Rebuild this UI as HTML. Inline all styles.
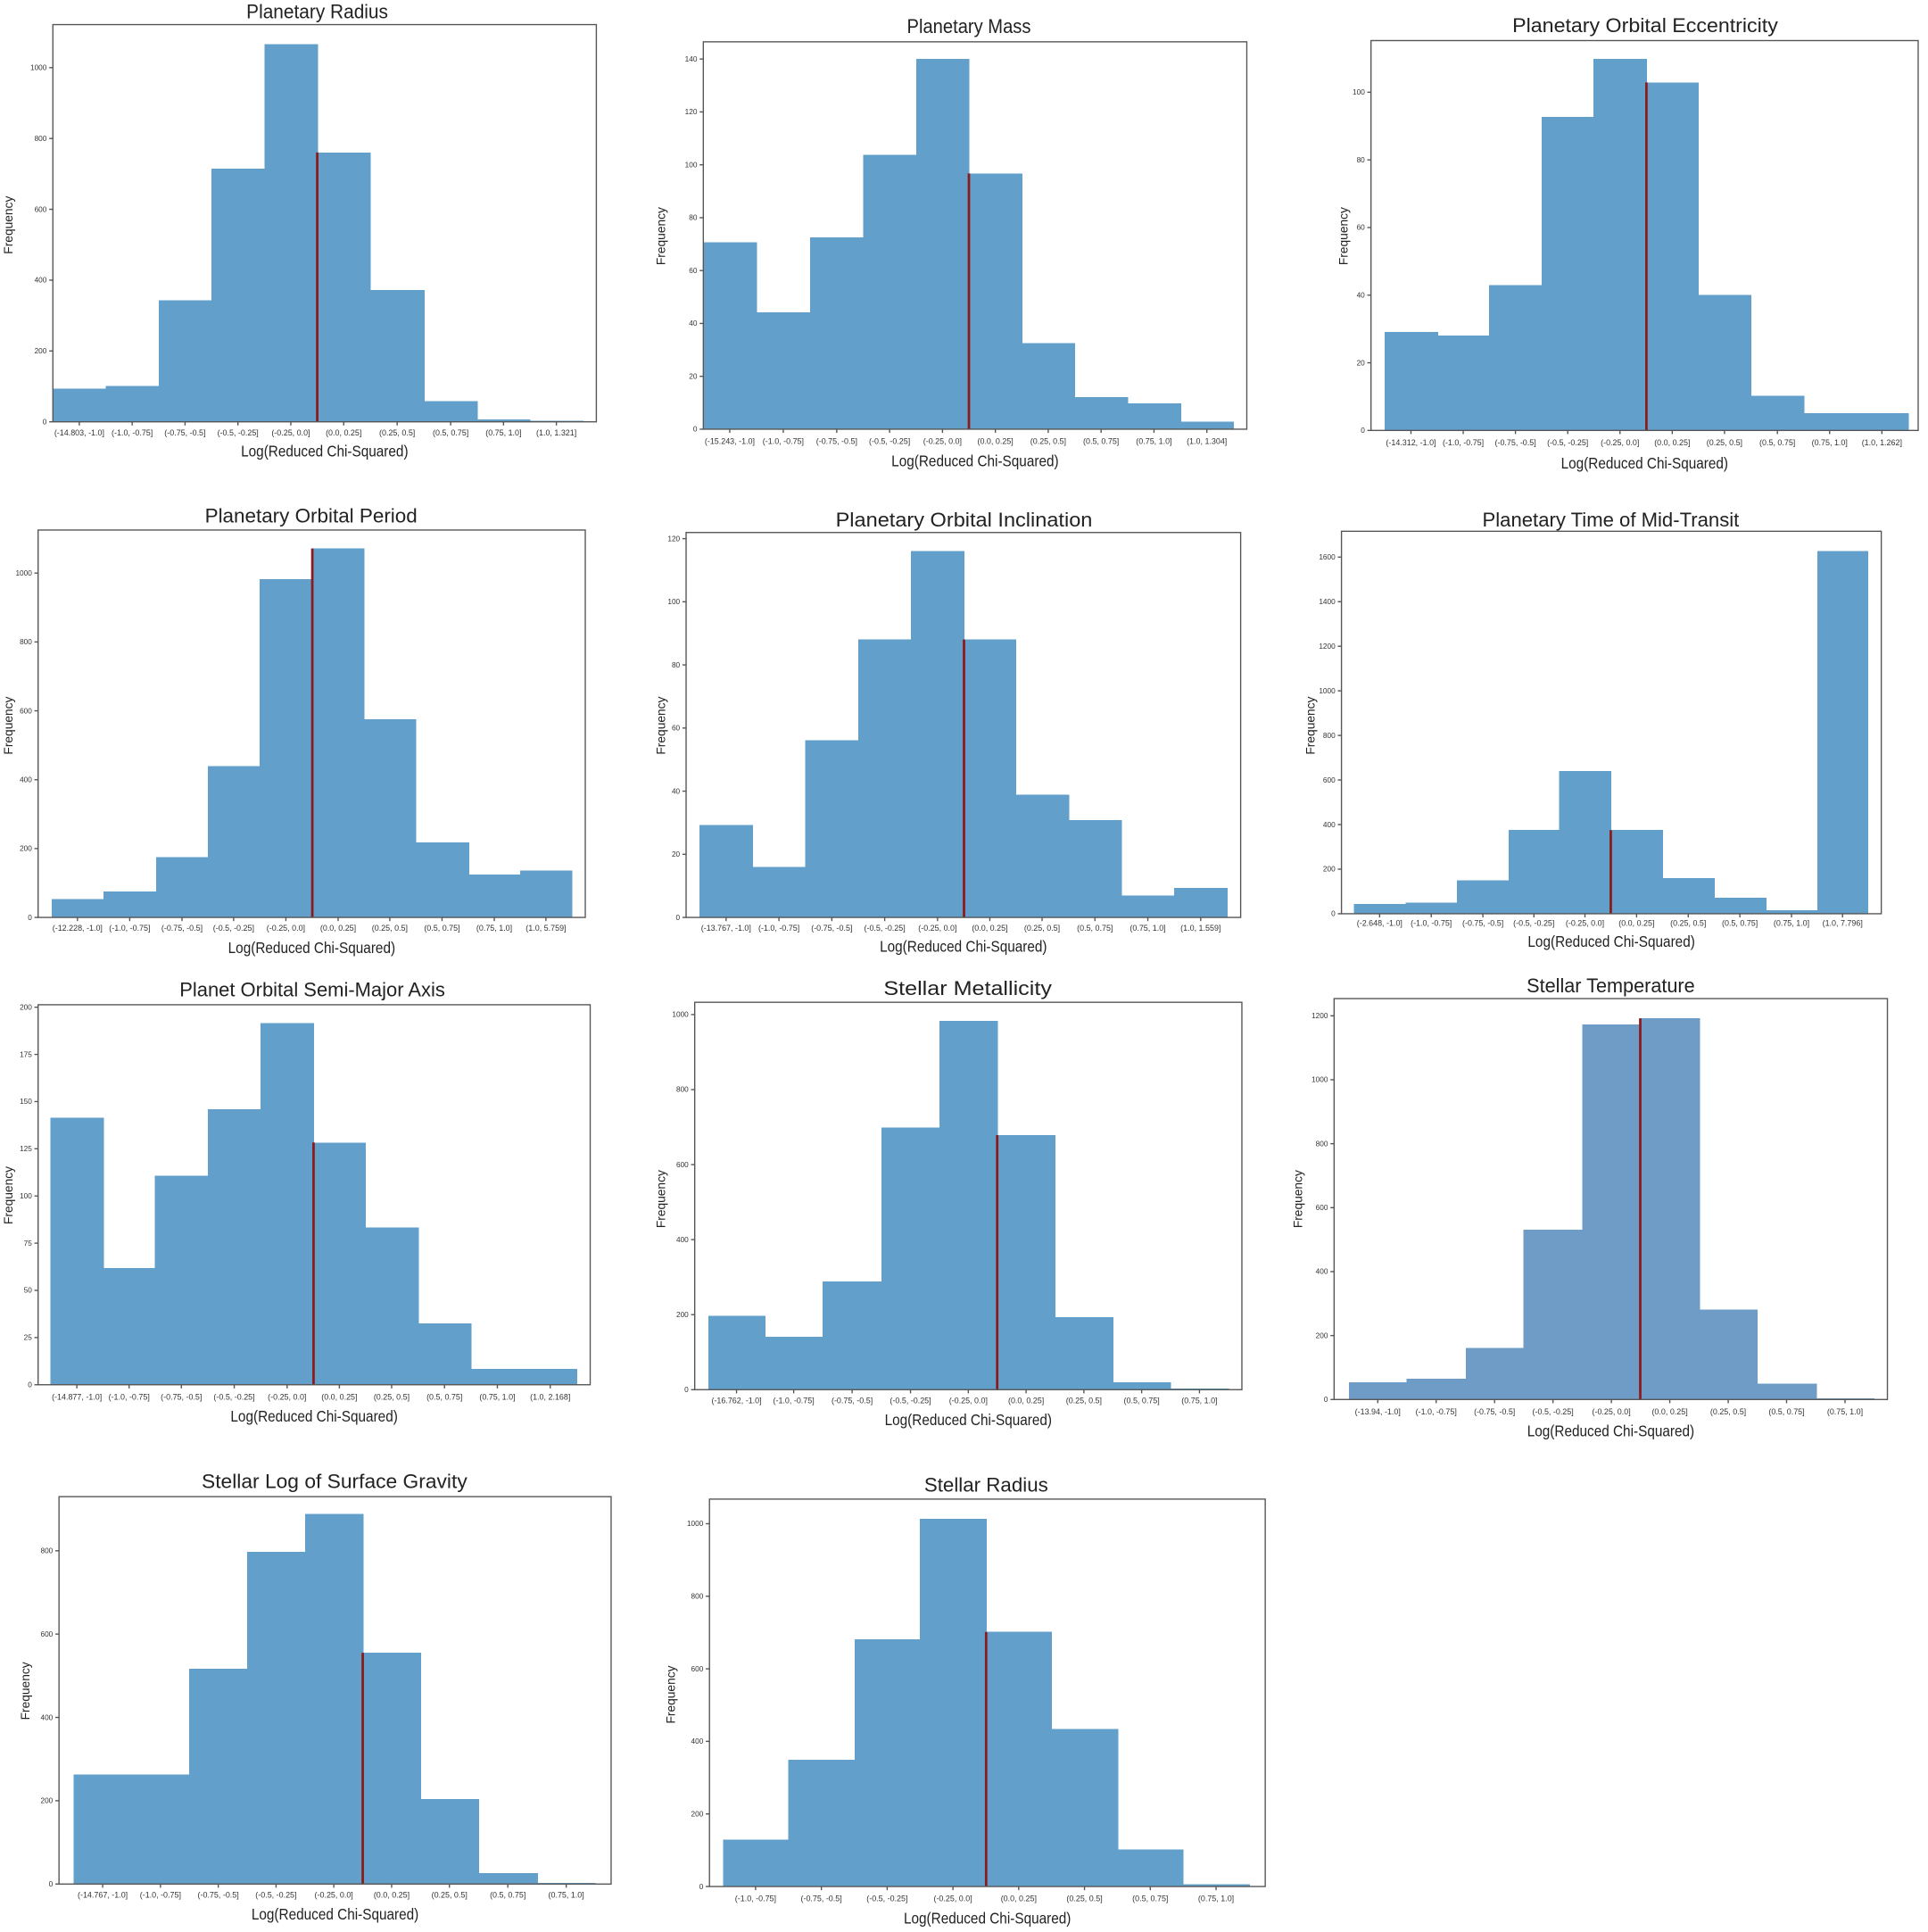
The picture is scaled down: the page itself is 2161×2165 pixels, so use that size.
<!DOCTYPE html>
<html><head><meta charset="utf-8"><style>html,body{margin:0;padding:0;background:#fff}svg{display:block}</style></head>
<body>
<svg id="s" width="2161" height="2165" viewBox="0 0 1568 1571" preserveAspectRatio="none" xmlns="http://www.w3.org/2000/svg" font-family="Liberation Sans, sans-serif"></svg>
<script>
const P=[
{t:"Planetary Radius",ax:[43,485,20,343],tx:258,ty:9,e:[43,86,129,172,215,258,301,345,388,431,474],h:[316,314,244,137,36,124,236,326,341,342],r:5,yt:[0,200,400,600,800,1000],y0:343,y1:55,ym:1000,ly:352,al:366,fx:6,fy:183,
xl:["(-14.803, -1.0]","(-1.0, -0.75]","(-0.75, -0.5]","(-0.5, -0.25]","(-0.25, 0.0]","(0.0, 0.25]","(0.25, 0.5]","(0.5, 0.75]","(0.75, 1.0]","(1.0, 1.321]"]},
{t:"Planetary Mass",ax:[572,1014,34,349],tx:788,ty:21,e:[572,615,659,702,745,788,831,874,917,960,1003],h:[197,254,193,126,48,141,279,323,328,343],r:5,yt:[0,20,40,60,80,100,120,140],y0:349,y1:48,ym:140,ly:359,al:374,fx:537,fy:192,
xl:["(-15.243, -1.0]","(-1.0, -0.75]","(-0.75, -0.5]","(-0.5, -0.25]","(-0.25, 0.0]","(0.0, 0.25]","(0.25, 0.5]","(0.5, 0.75]","(0.75, 1.0]","(1.0, 1.304]"]},
{t:"Planetary Orbital Eccentricity",ax:[1115,1560,33,350],tx:1338,ty:20,e:[1126,1169,1211,1254,1296,1339,1381,1424,1467,1509,1552],h:[270,273,232,95,48,67,240,322,336,336],r:5,yt:[0,20,40,60,80,100],y0:350,y1:75,ym:100,ly:360,al:376,fx:1092,fy:192,
xl:["(-14.312, -1.0]","(-1.0, -0.75]","(-0.75, -0.5]","(-0.5, -0.25]","(-0.25, 0.0]","(0.0, 0.25]","(0.25, 0.5]","(0.5, 0.75]","(0.75, 1.0]","(1.0, 1.262]"]},
{t:"Planetary Orbital Period",ax:[31,476,431,746],tx:253,ty:419,e:[42,84,127,169,211,254,296,338,381,423,465],h:[731,725,697,623,471,446,585,685,711,708],r:5,yt:[0,200,400,600,800,1000],y0:746,y1:466,ym:1000,ly:755,al:770,fx:6,fy:590,
xl:["(-12.228, -1.0]","(-1.0, -0.75]","(-0.75, -0.5]","(-0.5, -0.25]","(-0.25, 0.0]","(0.0, 0.25]","(0.25, 0.5]","(0.5, 0.75]","(0.75, 1.0]","(1.0, 5.759]"]},
{t:"Planetary Orbital Inclination",ax:[558,1009,433,746],tx:784,ty:422,e:[569,612,655,698,741,784,826,869,912,955,998],h:[671,705,602,520,448,520,646,667,728,722],r:5,yt:[0,20,40,60,80,100,120],y0:746,y1:438,ym:120,ly:755,al:769,fx:537,fy:590,
xl:["(-13.767, -1.0]","(-1.0, -0.75]","(-0.75, -0.5]","(-0.5, -0.25]","(-0.25, 0.0]","(0.0, 0.25]","(0.25, 0.5]","(0.5, 0.75]","(0.75, 1.0]","(1.0, 1.559]"]},
{t:"Planetary Time of Mid-Transit",ax:[1091,1530,432,743],tx:1310,ty:422,e:[1101,1143,1185,1227,1268,1310,1352,1394,1436,1478,1519],h:[735,734,716,675,627,675,714,730,740,448],r:5,yt:[0,200,400,600,800,1000,1200,1400,1600],y0:743,y1:453,ym:1600,ly:751,al:765,fx:1065,fy:590,
xl:["(-2.648, -1.0]","(-1.0, -0.75]","(-0.75, -0.5]","(-0.5, -0.25]","(-0.25, 0.0]","(0.0, 0.25]","(0.25, 0.5]","(0.5, 0.75]","(0.75, 1.0]","(1.0, 7.796]"]},
{t:"Planet Orbital Semi-Major Axis",ax:[31,480,817,1126],tx:254,ty:804,e:[41,84,126,169,212,255,297,340,383,426,469],h:[909,1031,956,902,832,929,998,1076,1113,1113],r:5,yt:[0,25,50,75,100,125,150,175,200],y0:1126,y1:819,ym:200,ly:1136,al:1151,fx:6,fy:972,
xl:["(-14.877, -1.0]","(-1.0, -0.75]","(-0.75, -0.5]","(-0.5, -0.25]","(-0.25, 0.0]","(0.0, 0.25]","(0.25, 0.5]","(0.5, 0.75]","(0.75, 1.0]","(1.0, 2.168]"]},
{t:"Stellar Metallicity",ax:[565,1010,815,1130],tx:787,ty:803,e:[576,622,669,717,764,811,858,905,952,999],h:[1070,1087,1042,917,830,923,1071,1124,1129],r:5,yt:[0,200,400,600,800,1000],y0:1130,y1:825,ym:1000,ly:1139,al:1154,fx:537,fy:975,
xl:["(-16.762, -1.0]","(-1.0, -0.75]","(-0.75, -0.5]","(-0.5, -0.25]","(-0.25, 0.0]","(0.0, 0.25]","(0.25, 0.5]","(0.5, 0.75]","(0.75, 1.0]"]},
{t:"Stellar Temperature",ax:[1085,1535,812,1138],tx:1310,ty:801,e:[1097,1144,1192,1239,1287,1334,1382,1429,1477,1524],h:[1124,1121,1096,1000,833,828,1065,1125,1137],r:5,c:"#6f9cc7",yt:[0,200,400,600,800,1000,1200],y0:1138,y1:826,ym:1200,ly:1148,al:1163,fx:1055,fy:975,
xl:["(-13.94, -1.0]","(-1.0, -0.75]","(-0.75, -0.5]","(-0.5, -0.25]","(-0.25, 0.0]","(0.0, 0.25]","(0.25, 0.5]","(0.5, 0.75]","(0.75, 1.0]"]},
{t:"Stellar Log of Surface Gravity",ax:[48,497,1217,1532],tx:272,ty:1204,e:[60,107,154,201,248,295,342,389,437,484],h:[1443,1443,1357,1262,1231,1344,1463,1523,1531],r:5,yt:[0,200,400,600,800],y0:1532,y1:1261,ym:800,ly:1541,al:1556,fx:20,fy:1375,
xl:["(-14.767, -1.0]","(-1.0, -0.75]","(-0.75, -0.5]","(-0.5, -0.25]","(-0.25, 0.0]","(0.0, 0.25]","(0.25, 0.5]","(0.5, 0.75]","(0.75, 1.0]"]},
{t:"Stellar Radius",ax:[577,1029,1219,1534],tx:802,ty:1207,e:[588,641,695,748,802,855,909,962,1016],h:[1496,1431,1333,1235,1327,1406,1504,1532],r:4,yt:[0,200,400,600,800,1000],y0:1534,y1:1239,ym:1000,ly:1544,al:1559,fx:545,fy:1378,
xl:["(-1.0, -0.75]","(-0.75, -0.5]","(-0.5, -0.25]","(-0.25, 0.0]","(0.0, 0.25]","(0.25, 0.5]","(0.5, 0.75]","(0.75, 1.0]"]}
];
let o="";
for(const p of P){
 const [l,r,t,b]=p.ax,c=p.c||"#62a0cb";
 for(let i=0;i<p.h.length;i++) o+=`<rect x="${p.e[i]}" y="${p.h[i]}" width="${p.e[i+1]-p.e[i]+0.5}" height="${b-p.h[i]}" fill="${c}" shape-rendering="crispEdges"/>`;
 const rx=p.e[p.r];
 o+=`<line x1="${rx}" y1="${p.h[p.r]}" x2="${rx}" y2="${b}" stroke="#8b1a1a" stroke-width="2"/>`;
 o+=`<rect x="${l}" y="${t}" width="${r-l}" height="${b-t}" fill="none" stroke="#555" stroke-width="1"/>`;
 const tw=p.t.length*7.2;
 o+=`<text x="${p.tx}" y="${p.ty+6}" font-size="16" text-anchor="middle" fill="#222" textLength="${tw}" lengthAdjust="spacingAndGlyphs">${p.t}</text>`;
 for(const v of p.yt){const y=p.y0+(p.y1-p.y0)*v/p.ym;
  o+=`<line x1="${l-3}" y1="${y}" x2="${l}" y2="${y}" stroke="#555"/><text x="${l-5}" y="${y+2}" font-size="6" text-anchor="end" fill="#333">${v}</text>`;}
 for(let i=0;i<p.xl.length;i++){const x=(p.e[i]+p.e[i+1])/2;
  o+=`<line x1="${x}" y1="${b}" x2="${x}" y2="${b+3}" stroke="#555"/><text x="${x}" y="${p.ly+2}" font-size="6.5" text-anchor="middle" fill="#333">${p.xl[i]}</text>`;}
 o+=`<text x="${(l+r)/2}" y="${p.al+5}" font-size="13" text-anchor="middle" fill="#222" textLength="136" lengthAdjust="spacingAndGlyphs">Log(Reduced Chi-Squared)</text>`;
 o+=`<text x="${p.fx+4}" y="${p.fy}" font-size="10" text-anchor="middle" fill="#222" transform="rotate(-90 ${p.fx+4} ${p.fy})">Frequency</text>`;
}
document.getElementById("s").innerHTML=o;
</script>
</body></html>
